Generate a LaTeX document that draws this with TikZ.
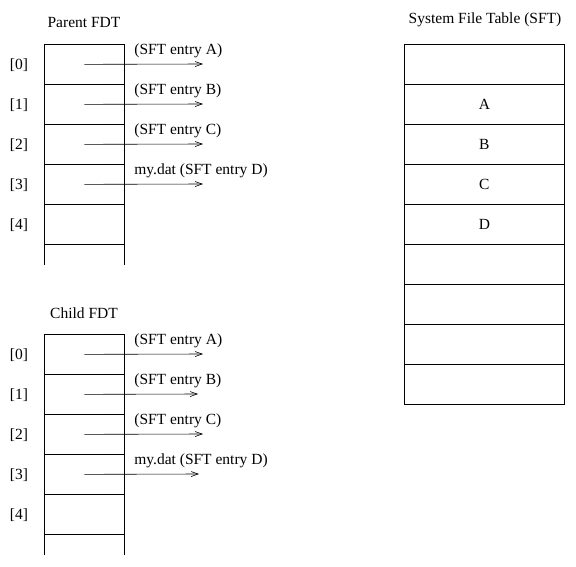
\documentclass[tikz,border=0pt]{standalone}
\usepackage{fontspec}
\setmainfont{Liberation Serif}
\usetikzlibrary{arrows.meta}
\begin{document}
\begin{tikzpicture}[x=1pt,y=-1pt,line width=0.7pt,
  every node/.style={font=\fontsize{15.5}{18}\selectfont},
  cell/.style={draw,minimum width=80pt,minimum height=40pt,inner sep=0pt,anchor=north west},
  scell/.style={draw,minimum width=160pt,minimum height=40pt,inner sep=0pt,anchor=north west},
  lbl/.style={anchor=base west,inner sep=0pt},
  idx/.style={anchor=center,inner sep=0pt},
  ptr/.style={-{Straight Barb[length=7pt,width=5pt]},line width=0.6pt}]
\useasboundingbox (0,0) rectangle (576,566);
% Titles
\node[idx] (ptitle) at (84,22) {Parent FDT};
\node[idx] (ctitle) at (84,313) {Child FDT};
\node[idx] (stitle) at (485,20) {System File Table (SFT)};
% Parent and child FDT
\foreach \t/\oy in {p/0,c/290}{
  \foreach \i in {0,...,4}{
    \node[cell] (\t\i) at (44,{44+\oy+40*\i}) {};
    \node[idx] (\t i\i) at (19,{65+\oy+40*\i}) {[\i]};
  }
  \draw (\t4.south west) -- ++(0,20) coordinate (\t bl);
  \draw (\t4.south east) -- ++(0,20) coordinate (\t br);
  \node[lbl] (\t l0) at (134,{54+\oy}) {(SFT entry A)};
  \node[lbl] (\t l1) at (134,{94+\oy}) {(SFT entry B)};
  \node[lbl] (\t l2) at (134,{134+\oy}) {(SFT entry C)};
  \node[lbl] (\t l3) at (134,{174+\oy}) {my.dat (SFT entry D)};
}
\coordinate (pa0) at (203,64);
\coordinate (pa1) at (203,104);
\coordinate (pa2) at (203,144);
\coordinate (pa3) at (203,184);
\coordinate (ca0) at (203,354);
\coordinate (ca1) at (198,394);
\coordinate (ca2) at (203,434);
\coordinate (ca3) at (199,474);
\foreach \t in {p,c}{
  \foreach \i in {0,...,3}{
    \draw[ptr] (\t\i.center) -- (\t a\i);
  }
}
% SFT
\node[scell] (s0) at (404,44) {};
\node[scell] (s1) at (404,84) {A};
\node[scell] (s2) at (404,124) {B};
\node[scell] (s3) at (404,164) {C};
\node[scell] (s4) at (404,204) {D};
\node[scell] (s5) at (404,244) {};
\node[scell] (s6) at (404,284) {};
\node[scell] (s7) at (404,324) {};
\node[scell] (s8) at (404,364) {};
\end{tikzpicture}
\end{document}
